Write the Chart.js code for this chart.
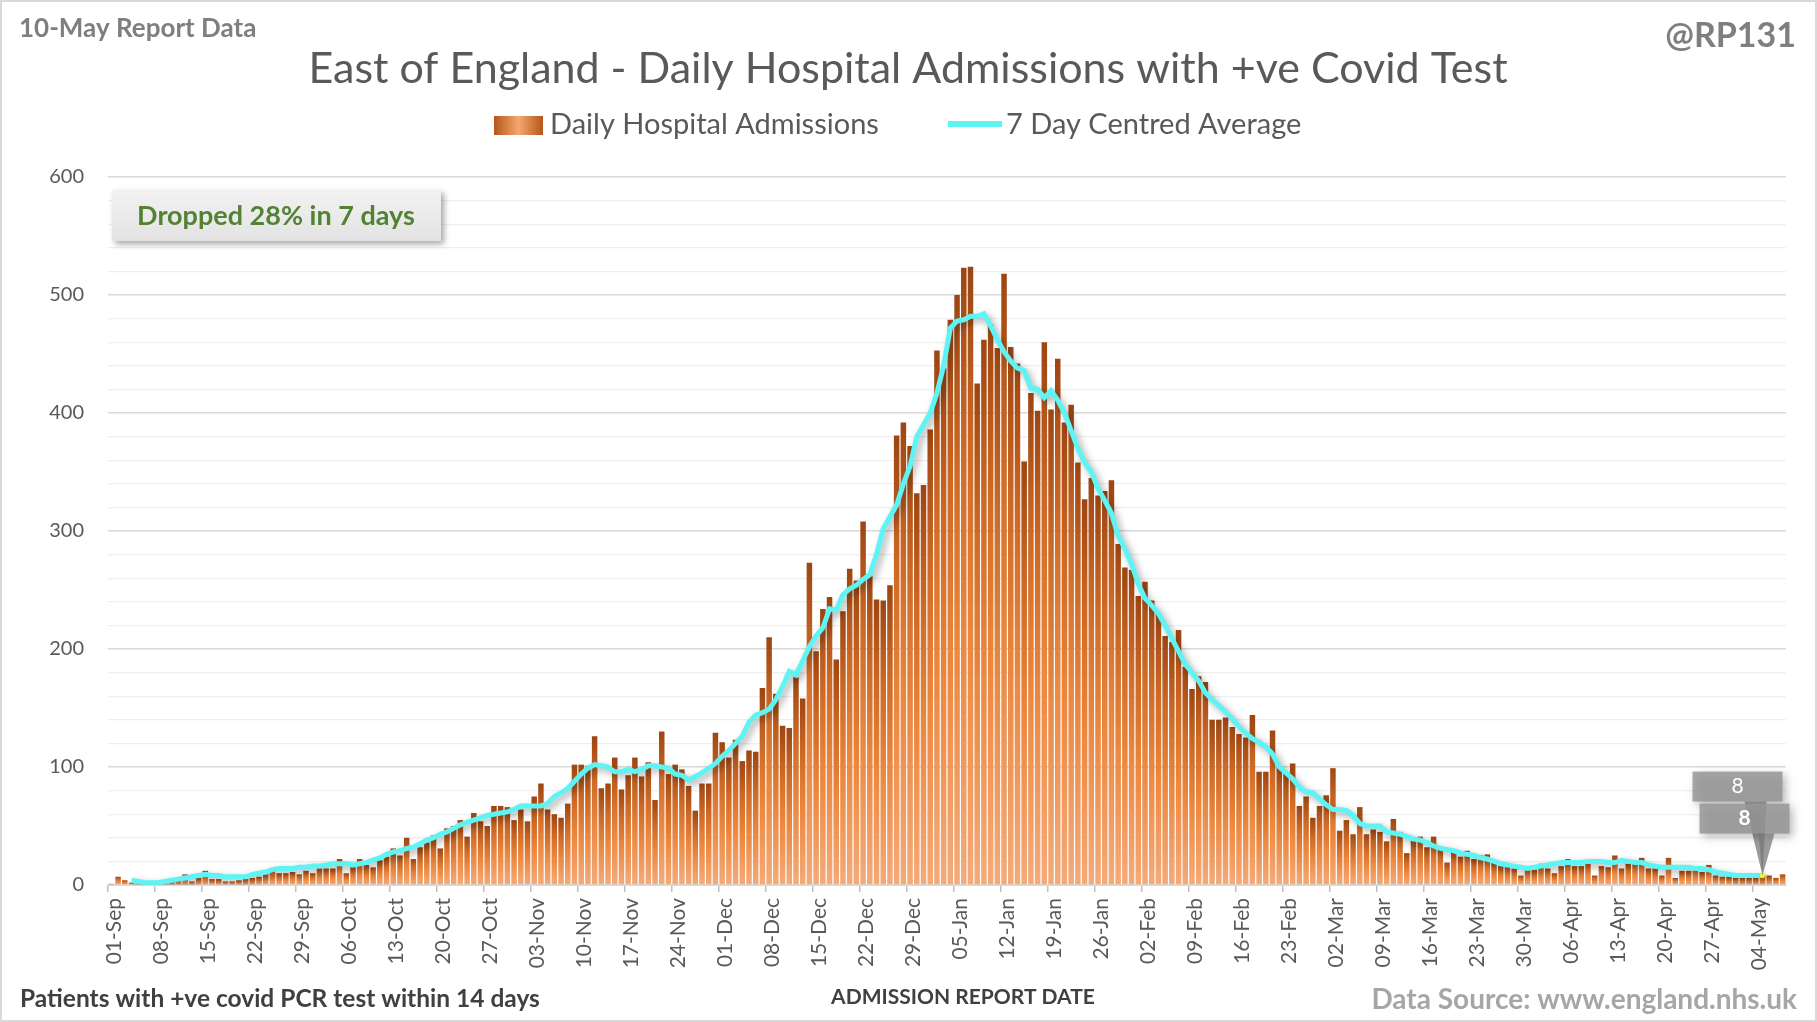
<!DOCTYPE html>
<html>
<head>
<meta charset="utf-8">
<script src="https://cdn.jsdelivr.net/npm/chart.js@4.4.1/dist/chart.umd.min.js"></script>
<style>
  html, body { margin: 0; padding: 0; background: #fff; overflow: hidden; }
  #wrap { position: relative; width: 1817px; height: 1022px; }
</style>
</head>
<body>
<div id="wrap"><canvas id="chart"></canvas></div>
<script>
// Daily admissions, 01-Sep-2020 .. 08-May-2021 (one value per day)
const admissions = [
  1, 7, 4, 2, 2, 1, 1, 2, 3, 3,
  5, 9, 3, 6, 12, 5, 5, 3, 3, 4,
  5, 6, 7, 9, 14, 10, 10, 11, 9, 12,
  10, 14, 14, 14, 22, 10, 15, 22, 17, 15,
  21, 24, 31, 25, 40, 22, 32, 36, 42, 31,
  48, 50, 55, 41, 61, 54, 50, 67, 67, 66,
  55, 64, 54, 75, 86, 64, 60, 57, 69, 102,
  102, 101, 126, 82, 86, 108, 81, 93, 108, 92,
  104, 72, 130, 94, 102, 98, 84, 63, 86, 86,
  129, 121, 108, 123, 105, 114, 113, 167, 210, 162,
  135, 133, 176, 158, 273, 198, 234, 244, 191, 232,
  268, 258, 308, 262, 242, 241, 254, 381, 392, 372,
  332, 339, 386, 453, 438, 479, 500, 523, 524, 425,
  462, 475, 455, 518, 456, 442, 359, 417, 402, 460,
  403, 446, 392, 407, 358, 327, 345, 330, 334, 343,
  289, 269, 267, 245, 257, 241, 230, 211, 206, 216,
  185, 166, 177, 172, 140, 140, 142, 134, 128, 125,
  144, 96, 96, 131, 100, 95, 103, 67, 75, 57,
  67, 76, 99, 46, 55, 43, 66, 43, 47, 45,
  37, 56, 45, 27, 38, 41, 32, 41, 32, 19,
  29, 24, 29, 22, 25, 26, 19, 16, 16, 14,
  8, 14, 13, 18, 14, 10, 16, 22, 16, 16,
  20, 8, 16, 15, 25, 14, 18, 21, 23, 14,
  14, 8, 23, 6, 12, 12, 16, 11, 17, 8,
  7, 7, 6, 6, 6, 6, 8, 8, 6, 9
];

// 7 day centred average (no value for first/last 3 days)
const avgLine = [
  null, null, null, 4, 3, 2, 2, 2, 3, 4,
  5, 6, 7, 8, 9, 8, 8, 7, 7, 7,
  7, 9, 10, 11, 13, 14, 14, 14, 15, 15,
  16, 16, 17, 18, 18, 18, 17, 18, 19, 21,
  23, 26, 28, 29, 31, 32, 35, 38, 40, 43,
  45, 48, 51, 53, 55, 57, 59, 60, 61, 62,
  64, 67, 67, 67, 67, 69, 75, 78, 82, 88,
  94, 99, 102, 101, 100, 96, 96, 98, 96, 98,
  101, 101, 100, 99, 94, 93, 89, 92, 95, 99,
  103, 109, 114, 120, 126, 138, 144, 146, 149, 157,
  168, 181, 178, 190, 202, 211, 218, 234, 233, 246,
  251, 254, 259, 263, 280, 302, 312, 322, 340, 355,
  380, 390, 400, 417, 440, 472, 478, 479, 482, 482,
  484, 474, 462, 452, 444, 438, 436, 421, 420, 413,
  419, 411, 400, 385, 370, 358, 350, 336, 326, 315,
  296, 285, 272, 255, 243, 237, 230, 220, 209, 198,
  187, 180, 173, 163, 157, 152, 147, 141, 134, 129,
  124, 121, 117, 111, 100, 95, 90, 83, 79, 78,
  73, 68, 64, 64, 63, 59, 52, 50, 50, 50,
  45, 44, 43, 41, 39, 38, 36, 33, 31, 30,
  29, 27, 26, 25, 23, 22, 20, 18, 17, 16,
  15, 14, 15, 16, 17, 18, 19, 19, 19, 19,
  20, 20, 20, 19, 19, 21, 20, 19, 19, 17,
  16, 15, 15, 15, 15, 15, 14, 14, 13, 11,
  10, 9, 8, 8, 8, 8, 8, null, null, null
];

// weekly tick labels shown on the x axis
const tickLabels = [
  '01-Sep', '08-Sep', '15-Sep', '22-Sep', '29-Sep', '06-Oct', '13-Oct', '20-Oct', '27-Oct',
  '03-Nov', '10-Nov', '17-Nov', '24-Nov', '01-Dec', '08-Dec', '15-Dec', '22-Dec', '29-Dec',
  '05-Jan', '12-Jan', '19-Jan', '26-Jan', '02-Feb', '09-Feb', '16-Feb', '23-Feb',
  '02-Mar', '09-Mar', '16-Mar', '23-Mar', '30-Mar', '06-Apr', '13-Apr', '20-Apr', '27-Apr', '04-May'
];

const months = ['Jan', 'Feb', 'Mar', 'Apr', 'May', 'Jun', 'Jul', 'Aug', 'Sep', 'Oct', 'Nov', 'Dec'];
const days = admissions.map((_, i) => {
  const d = new Date(Date.UTC(2020, 8, 1 + i));
  return String(d.getUTCDate()).padStart(2, '0') + '-' + months[d.getUTCMonth()];
});

// last point of the average (gets the callout labels)
let lastIdx = 0;
avgLine.forEach((v, i) => { if (v !== null) lastIdx = i; });

const FONT = 'Lato, "Open Sans", sans-serif';

// per-bar vertical gradient (dark top -> light bottom)
function barFill(c) {
  const chart = c.chart;
  const { chartArea, scales } = chart;
  if (!chartArea || c.type !== 'data') return '#e07b39';
  const top = scales.y.getPixelForValue(c.raw);
  const base = scales.y.getPixelForValue(0);
  if (base - top < 2) return '#b85a1c';
  const g = chart.ctx.createLinearGradient(0, top, 0, base);
  g.addColorStop(0, '#9d4512');
  g.addColorStop(0.3, '#cf6a26');
  g.addColorStop(0.6, '#ec873f');
  g.addColorStop(1, '#f4ab7a');
  return g;
}

const lineShadow = {
  id: 'lineShadow',
  beforeDatasetDraw(chart, args) {
    if (args.index !== 0) return;
    const ctx = chart.ctx;
    ctx.save();
    ctx.shadowColor = 'rgba(0,0,0,0.35)';
    ctx.shadowBlur = 7;
    ctx.shadowOffsetX = 3;
    ctx.shadowOffsetY = 3;
  },
  afterDatasetDraw(chart, args) {
    if (args.index === 0) chart.ctx.restore();
  }
};

function text(ctx, str, x, y, font, color, align) {
  ctx.font = font;
  ctx.fillStyle = color;
  ctx.textAlign = align || 'left';
  ctx.textBaseline = 'middle';
  ctx.fillText(str, x, y);
}

const overlay = {
  id: 'overlay',
  beforeDraw(chart) {
    const { ctx, width, height } = chart;
    ctx.save();
    ctx.fillStyle = '#fff';
    ctx.fillRect(0, 0, width, height);
    ctx.strokeStyle = '#d9d9d9';
    ctx.lineWidth = 2;
    ctx.strokeRect(1, 1, width - 2, height - 2);
    ctx.restore();
  },
  afterDraw(chart) {
    const ctx = chart.ctx;
    ctx.save();

    // headings
    text(ctx, 'East of England - Daily Hospital Admissions with +ve Covid Test', 908, 69, '43px ' + FONT, '#595959', 'center');
    text(ctx, '10-May Report Data', 19, 29, 'bold 26px ' + FONT, '#7f7f7f');
    text(ctx, '@RP131', 1796, 36, 'bold 34px ' + FONT, '#7f7f7f', 'right');

    // legend
    const lg = ctx.createLinearGradient(494, 0, 543, 0);
    lg.addColorStop(0, '#b65618');
    lg.addColorStop(0.5, '#f5a76f');
    lg.addColorStop(1, '#b65618');
    ctx.fillStyle = lg;
    ctx.fillRect(494, 116, 49, 19);
    text(ctx, 'Daily Hospital Admissions', 550, 125, '29px ' + FONT, '#595959');
    ctx.strokeStyle = '#5ef4f4';
    ctx.lineWidth = 6;
    ctx.beginPath();
    ctx.moveTo(948, 124);
    ctx.lineTo(1002, 124);
    ctx.stroke();
    text(ctx, '7 Day Centred Average', 1006, 125, '29px ' + FONT, '#595959');

    // footer
    text(ctx, 'Patients with +ve covid PCR test within 14 days', 20, 999, 'bold 24.5px ' + FONT, '#404040');
    text(ctx, 'ADMISSION REPORT DATE', 963, 997, 'bold 21px ' + FONT, '#404040', 'center');
    text(ctx, 'Data Source: www.england.nhs.uk', 1797, 1000, 'bold 28px ' + FONT, '#a6a6a6', 'right');

    // "Dropped" note
    ctx.save();
    ctx.shadowColor = 'rgba(0,0,0,0.35)';
    ctx.shadowBlur = 6;
    ctx.shadowOffsetX = 3;
    ctx.shadowOffsetY = 3;
    const bg = ctx.createLinearGradient(0, 190, 0, 241);
    bg.addColorStop(0, '#f2f2f2');
    bg.addColorStop(1, '#e3e3e3');
    ctx.fillStyle = bg;
    ctx.fillRect(112, 190, 329, 51);
    ctx.restore();
    text(ctx, 'Dropped 28% in 7 days', 276, 216, 'bold 27px ' + FONT, '#548235', 'center');

    // callouts on the last average point
    const pt = chart.getDatasetMeta(0).data[lastIdx];
    if (pt) {
      const px = pt.x, py = pt.y;
      const boxes = [
        { x: px - 70, y: py - 104, tip: [px - 18, px + 4], label: String(avgLine[lastIdx]), bold: false },
        { x: px - 63, y: py - 72, tip: [px - 4, px + 12], label: String(admissions[lastIdx]), bold: true }
      ];
      boxes.forEach(b => {
        ctx.save();
        ctx.shadowColor = 'rgba(0,0,0,0.3)';
        ctx.shadowBlur = 8;
        ctx.shadowOffsetX = 3;
        ctx.shadowOffsetY = 3;
        ctx.fillStyle = 'rgba(150,150,150,0.85)';
        ctx.fillRect(b.x, b.y, 90, 30);
        ctx.restore();
        ctx.fillStyle = 'rgba(120,120,120,0.75)';
        ctx.beginPath();
        ctx.moveTo(b.tip[0], b.y + 30);
        ctx.lineTo(b.tip[1], b.y + 30);
        ctx.lineTo(px, py);
        ctx.closePath();
        ctx.fill();
        text(ctx, b.label, b.x + 45, b.y + 15, (b.bold ? 'bold ' : '') + '21px ' + FONT, '#ffffff', 'center');
      });
    }
    ctx.restore();
  }
};

new Chart(document.getElementById('chart'), {
  type: 'bar',
  data: {
    labels: days,
    datasets: [
      {
        type: 'line',
        label: '7 Day Centred Average',
        data: avgLine,
        borderColor: '#5ef4f4',
        borderWidth: 5,
        tension: 0,
        order: 0,
        pointRadius: c => (c.dataIndex === lastIdx ? 3 : 0),
        pointStyle: 'rect',
        pointBackgroundColor: '#ffff00',
        pointBorderWidth: 0
      },
      {
        label: 'Daily Hospital Admissions',
        data: admissions,
        backgroundColor: barFill,
        barPercentage: 0.82,
        categoryPercentage: 1,
        order: 1
      }
    ]
  },
  options: {
    responsive: true,
    maintainAspectRatio: false,
    animation: false,
    events: [],
    layout: { padding: { top: 177, right: 31, bottom: 0, left: 0 } },
    plugins: {
      legend: { display: false },
      title: { display: false },
      tooltip: { enabled: false }
    },
    scales: {
      x: {
        offset: true,
        afterFit: s => { s.height = 137; },
        border: { display: true, color: '#d9d9d9', width: 2 },
        grid: {
          offset: true,
          drawOnChartArea: false,
          drawTicks: true,
          tickLength: 7,
          lineWidth: 1.5,
          color: c => (c.tick && tickLabels.includes(days[c.index]) ? '#bfbfbf' : 'rgba(0,0,0,0)')
        },
        ticks: {
          autoSkip: false,
          maxRotation: 90,
          minRotation: 90,
          padding: 6,
          labelOffset: 3,
          color: '#595959',
          font: { family: FONT, size: 21 },
          callback: (v, i) => (tickLabels.includes(days[i]) ? days[i] : '')
        }
      },
      y: {
        min: 0,
        max: 600,
        afterFit: s => { s.width = 108; },
        border: { display: false },
        grid: {
          drawTicks: false,
          lineWidth: c => (c.tick && c.tick.value % 100 === 0 ? 1.5 : 1.2),
          color: c => (c.tick && c.tick.value % 100 === 0 ? '#d9d9d9' : '#efefef')
        },
        ticks: {
          autoSkip: false,
          stepSize: 20,
          padding: 24,
          color: '#595959',
          font: { family: FONT, size: 20 },
          callback: v => (v % 100 === 0 ? v : '')
        }
      }
    }
  },
  plugins: [overlay, lineShadow]
});
</script>
</body>
</html>
